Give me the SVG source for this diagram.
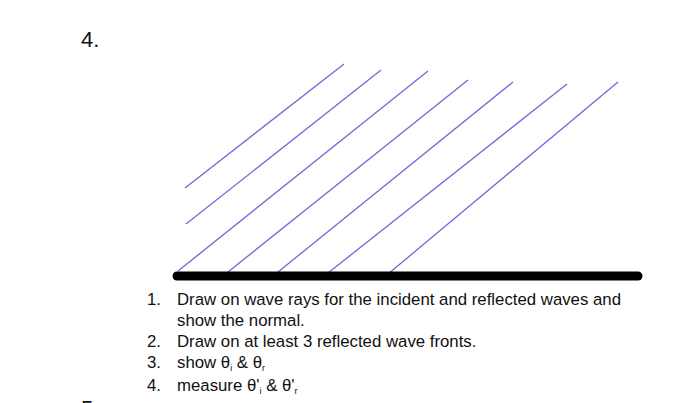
<svg xmlns="http://www.w3.org/2000/svg" width="700" height="403" viewBox="0 0 700 403">
<style>
.front{stroke:#6b6bd6;stroke-width:1.3;fill:none}
.t{font-family:"Liberation Sans",Arial,sans-serif;fill:#111;font-size:16.8px}
.h{font-family:"Liberation Sans",Arial,sans-serif;fill:#111;font-size:22px}
.sub{font-size:9px}
</style>
<rect width="700" height="403" fill="#fff"/>
<text class="h" x="81" y="47">4.</text>
<text class="h" x="81" y="416">5.</text>
<g id="wavefronts">
<line class="front" x1="185" y1="188" x2="344" y2="64"/>
<line class="front" x1="186" y1="224" x2="381" y2="70"/>
<line class="front" x1="178" y1="271" x2="428" y2="71"/>
<line class="front" x1="228" y1="272" x2="468" y2="80"/>
<line class="front" x1="278" y1="272" x2="513" y2="82"/>
<line class="front" x1="328" y1="273" x2="567" y2="84"/>
<line class="front" x1="388" y1="274" x2="618" y2="82"/>
</g>
<g id="surface">
<line x1="177" y1="276" x2="638" y2="276" stroke="#000" stroke-width="9" stroke-linecap="round"/>
</g>
<g id="instructions">
<text class="t" x="147" y="305">1.</text>
<text class="t" x="177" y="305">Draw on wave rays for the incident and reflected waves and</text>
<text class="t" x="177" y="326">show the normal.</text>
<text class="t" x="147" y="347">2.</text>
<text class="t" x="177" y="347">Draw on at least 3 reflected wave fronts.</text>
<text class="t" x="147" y="368">3.</text>
<text class="t" x="177" y="368">show θ<tspan class="sub" dy="3">i</tspan><tspan dy="-3"> &amp; θ</tspan><tspan class="sub" dy="3">r</tspan></text>
<text class="t" x="147" y="391">4.</text>
<text class="t" x="177" y="391">measure θ'<tspan class="sub" dy="3">i</tspan><tspan dy="-3"> &amp; θ'</tspan><tspan class="sub" dy="3">r</tspan></text>
</g>
</svg>
